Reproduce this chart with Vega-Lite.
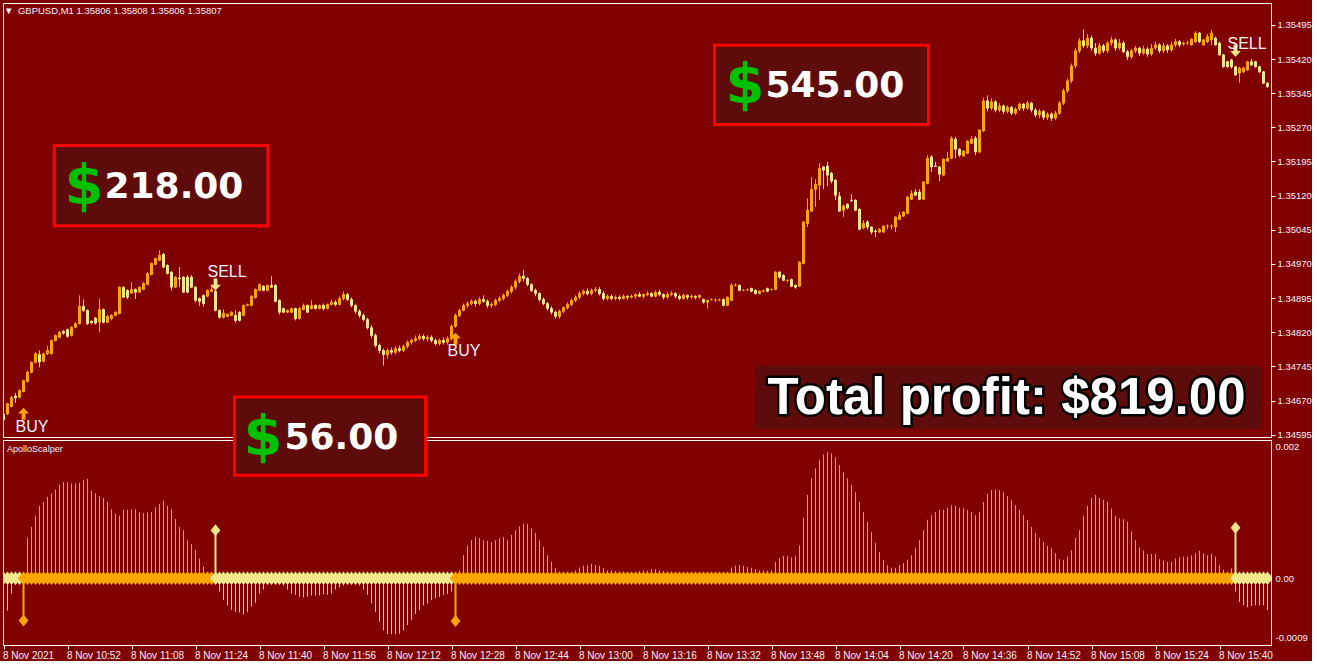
{
"$schema": "https://vega.github.io/schema/vega-lite/v6.json",
"background": "#800000",
"padding": {"left": 2, "top": 2, "right": 0, "bottom": 0},
"spacing": 3,
"bounds": "flush",
"config": {"view": {"stroke": "#ffffff", "strokeWidth": 1}, "scale": {"continuousPadding": 0}, "axis": {"labelOverlap": false, "labelFlush": false, "labelBound": false}},
"datasets": {
"k": [
{"m":0,"o":1.34640,"h":1.34644,"l":1.34615,"c":1.34628,"v":-0.00065,"s":"d"},
{"m":1,"o":1.34641,"h":1.34665,"l":1.34638,"c":1.34663,"v":-0.00049,"s":"d"},
{"m":2,"o":1.34657,"h":1.34680,"l":1.34655,"c":1.34677,"v":-0.00023,"s":"d"},
{"m":3,"o":1.34680,"h":1.34687,"l":1.34665,"c":1.34676,"v":-0.0001,"s":"d"},
{"m":4,"o":1.34677,"h":1.34695,"l":1.34675,"c":1.34692,"v":-0.00003,"s":"d"},
{"m":5,"o":1.34690,"h":1.34716,"l":1.34688,"c":1.34714,"v":0,"s":"u"},
{"m":6,"o":1.34712,"h":1.34736,"l":1.34710,"c":1.34732,"v":0.00062,"s":"u"},
{"m":7,"o":1.34732,"h":1.34756,"l":1.34730,"c":1.34754,"v":0.00078,"s":"u"},
{"m":8,"o":1.34754,"h":1.34776,"l":1.34752,"c":1.34773,"v":0.00095,"s":"u"},
{"m":9,"o":1.34771,"h":1.34780,"l":1.34743,"c":1.34755,"v":0.0011,"s":"u"},
{"m":10,"o":1.34756,"h":1.34775,"l":1.34754,"c":1.34773,"v":0.00116,"s":"u"},
{"m":11,"o":1.34773,"h":1.34790,"l":1.34770,"c":1.34780,"v":0.00124,"s":"u"},
{"m":12,"o":1.34773,"h":1.34804,"l":1.34771,"c":1.34802,"v":0.00129,"s":"u"},
{"m":13,"o":1.34802,"h":1.34815,"l":1.34800,"c":1.34813,"v":0.00135,"s":"u"},
{"m":14,"o":1.34809,"h":1.34823,"l":1.34807,"c":1.34820,"v":0.00142,"s":"u"},
{"m":15,"o":1.34822,"h":1.34825,"l":1.34815,"c":1.34818,"v":0.00146,"s":"u"},
{"m":16,"o":1.34826,"h":1.34828,"l":1.34808,"c":1.34811,"v":0.00146,"s":"u"},
{"m":17,"o":1.34813,"h":1.34833,"l":1.34811,"c":1.34831,"v":0.00144,"s":"u"},
{"m":18,"o":1.34831,"h":1.34842,"l":1.34829,"c":1.34839,"v":0.00144,"s":"u"},
{"m":19,"o":1.34839,"h":1.34901,"l":1.34837,"c":1.34877,"v":0.00145,"s":"u"},
{"m":20,"o":1.34877,"h":1.34892,"l":1.34865,"c":1.34868,"v":0.00149,"s":"u"},
{"m":21,"o":1.34868,"h":1.34870,"l":1.34836,"c":1.34839,"v":0.00151,"s":"u"},
{"m":22,"o":1.34844,"h":1.34846,"l":1.34838,"c":1.34841,"v":0.00133,"s":"u"},
{"m":23,"o":1.34851,"h":1.34853,"l":1.34837,"c":1.34840,"v":0.00129,"s":"u"},
{"m":24,"o":1.34842,"h":1.34894,"l":1.34820,"c":1.34870,"v":0.00125,"s":"u"},
{"m":25,"o":1.34870,"h":1.34872,"l":1.34840,"c":1.34842,"v":0.00122,"s":"u"},
{"m":26,"o":1.34842,"h":1.34858,"l":1.34840,"c":1.34855,"v":0.00116,"s":"u"},
{"m":27,"o":1.34850,"h":1.34860,"l":1.34846,"c":1.34857,"v":0.00105,"s":"u"},
{"m":28,"o":1.34857,"h":1.34866,"l":1.34855,"c":1.34864,"v":0.00098,"s":"u"},
{"m":29,"o":1.34861,"h":1.34921,"l":1.34859,"c":1.34919,"v":0.00095,"s":"u"},
{"m":30,"o":1.34919,"h":1.34921,"l":1.34895,"c":1.34897,"v":0.00104,"s":"u"},
{"m":31,"o":1.34912,"h":1.34914,"l":1.34893,"c":1.34897,"v":0.00104,"s":"u"},
{"m":32,"o":1.34906,"h":1.34930,"l":1.34904,"c":1.34914,"v":0.00105,"s":"u"},
{"m":33,"o":1.34914,"h":1.34916,"l":1.34893,"c":1.34908,"v":0.00105,"s":"u"},
{"m":34,"o":1.34908,"h":1.34921,"l":1.34906,"c":1.34919,"v":0.00101,"s":"u"},
{"m":35,"o":1.34914,"h":1.34930,"l":1.34912,"c":1.34927,"v":0.00099,"s":"u"},
{"m":36,"o":1.34925,"h":1.34952,"l":1.34923,"c":1.34949,"v":0.001,"s":"u"},
{"m":37,"o":1.34947,"h":1.34973,"l":1.34945,"c":1.34971,"v":0.00101,"s":"u"},
{"m":38,"o":1.34969,"h":1.34984,"l":1.34967,"c":1.34982,"v":0.00108,"s":"u"},
{"m":39,"o":1.34978,"h":1.35000,"l":1.34976,"c":1.34989,"v":0.00113,"s":"u"},
{"m":40,"o":1.34991,"h":1.34994,"l":1.34961,"c":1.34963,"v":0.00118,"s":"u"},
{"m":41,"o":1.34967,"h":1.34969,"l":1.34947,"c":1.34949,"v":0.0011,"s":"u"},
{"m":42,"o":1.34952,"h":1.34954,"l":1.34912,"c":1.34919,"v":0.00105,"s":"u"},
{"m":43,"o":1.34919,"h":1.34943,"l":1.34917,"c":1.34941,"v":0.0009,"s":"u"},
{"m":44,"o":1.34939,"h":1.34963,"l":1.34919,"c":1.34937,"v":0.00078,"s":"u"},
{"m":45,"o":1.34941,"h":1.34943,"l":1.34906,"c":1.34908,"v":0.00073,"s":"u"},
{"m":46,"o":1.34941,"h":1.34945,"l":1.34906,"c":1.34908,"v":0.00058,"s":"u"},
{"m":47,"o":1.34941,"h":1.34945,"l":1.34917,"c":1.34919,"v":0.00052,"s":"u"},
{"m":48,"o":1.34919,"h":1.34921,"l":1.34886,"c":1.34890,"v":0.00043,"s":"u"},
{"m":49,"o":1.34894,"h":1.34896,"l":1.34878,"c":1.34888,"v":0.0003,"s":"u"},
{"m":50,"o":1.34901,"h":1.34903,"l":1.34876,"c":1.34883,"v":0.00018,"s":"u"},
{"m":51,"o":1.34899,"h":1.34914,"l":1.34897,"c":1.34912,"v":0.00008,"s":"u"},
{"m":52,"o":1.34910,"h":1.34921,"l":1.34908,"c":1.34914,"v":0.00003,"s":"u"},
{"m":53,"o":1.34910,"h":1.34918,"l":1.34866,"c":1.34868,"v":-0.00008,"s":"d"},
{"m":54,"o":1.34868,"h":1.34870,"l":1.34850,"c":1.34853,"v":-0.0002,"s":"d"},
{"m":55,"o":1.34853,"h":1.34870,"l":1.34850,"c":1.34862,"v":-0.00033,"s":"d"},
{"m":56,"o":1.34855,"h":1.34862,"l":1.34853,"c":1.34859,"v":-0.00041,"s":"d"},
{"m":57,"o":1.34857,"h":1.34866,"l":1.34855,"c":1.34864,"v":-0.00048,"s":"d"},
{"m":58,"o":1.34857,"h":1.34868,"l":1.34841,"c":1.34846,"v":-0.00051,"s":"d"},
{"m":59,"o":1.34864,"h":1.34866,"l":1.34844,"c":1.34846,"v":-0.00052,"s":"d"},
{"m":60,"o":1.34857,"h":1.34881,"l":1.34855,"c":1.34879,"v":-0.00055,"s":"d"},
{"m":61,"o":1.34879,"h":1.34883,"l":1.34877,"c":1.34881,"v":-0.00051,"s":"d"},
{"m":62,"o":1.34879,"h":1.34901,"l":1.34877,"c":1.34899,"v":-0.00043,"s":"d"},
{"m":63,"o":1.34896,"h":1.34916,"l":1.34894,"c":1.34914,"v":-0.00037,"s":"d"},
{"m":64,"o":1.34912,"h":1.34927,"l":1.34910,"c":1.34925,"v":-0.00023,"s":"d"},
{"m":65,"o":1.34921,"h":1.34923,"l":1.34910,"c":1.34912,"v":-0.00017,"s":"d"},
{"m":66,"o":1.34912,"h":1.34925,"l":1.34910,"c":1.34923,"v":-0.00009,"s":"d"},
{"m":67,"o":1.34923,"h":1.34943,"l":1.34917,"c":1.34919,"v":-0.00006,"s":"d"},
{"m":68,"o":1.34923,"h":1.34925,"l":1.34886,"c":1.34888,"v":-0.00007,"s":"d"},
{"m":69,"o":1.34890,"h":1.34892,"l":1.34859,"c":1.34864,"v":-0.00008,"s":"d"},
{"m":70,"o":1.34872,"h":1.34874,"l":1.34862,"c":1.34864,"v":-0.00011,"s":"d"},
{"m":71,"o":1.34864,"h":1.34870,"l":1.34862,"c":1.34868,"v":-0.00017,"s":"d"},
{"m":72,"o":1.34864,"h":1.34874,"l":1.34862,"c":1.34872,"v":-0.00023,"s":"d"},
{"m":73,"o":1.34872,"h":1.34874,"l":1.34846,"c":1.34850,"v":-0.00025,"s":"d"},
{"m":74,"o":1.34850,"h":1.34876,"l":1.34848,"c":1.34872,"v":-0.00028,"s":"d"},
{"m":75,"o":1.34870,"h":1.34883,"l":1.34868,"c":1.34879,"v":-0.00029,"s":"d"},
{"m":76,"o":1.34879,"h":1.34881,"l":1.34862,"c":1.34864,"v":-0.00028,"s":"d"},
{"m":77,"o":1.34872,"h":1.34890,"l":1.34870,"c":1.34879,"v":-0.00026,"s":"d"},
{"m":78,"o":1.34879,"h":1.34881,"l":1.34870,"c":1.34872,"v":-0.00026,"s":"d"},
{"m":79,"o":1.34872,"h":1.34881,"l":1.34870,"c":1.34879,"v":-0.00026,"s":"d"},
{"m":80,"o":1.34879,"h":1.34883,"l":1.34868,"c":1.34872,"v":-0.00024,"s":"d"},
{"m":81,"o":1.34872,"h":1.34883,"l":1.34870,"c":1.34881,"v":-0.00025,"s":"d"},
{"m":82,"o":1.34881,"h":1.34892,"l":1.34879,"c":1.34886,"v":-0.00023,"s":"d"},
{"m":83,"o":1.34886,"h":1.34890,"l":1.34877,"c":1.34881,"v":-0.00017,"s":"d"},
{"m":84,"o":1.34881,"h":1.34899,"l":1.34879,"c":1.34894,"v":-0.00014,"s":"d"},
{"m":85,"o":1.34894,"h":1.34910,"l":1.34890,"c":1.34903,"v":-0.00011,"s":"d"},
{"m":86,"o":1.34903,"h":1.34906,"l":1.34888,"c":1.34892,"v":-0.00009,"s":"d"},
{"m":87,"o":1.34892,"h":1.34896,"l":1.34875,"c":1.34879,"v":-0.00008,"s":"d"},
{"m":88,"o":1.34879,"h":1.34881,"l":1.34861,"c":1.34866,"v":-0.00009,"s":"d"},
{"m":89,"o":1.34866,"h":1.34870,"l":1.34852,"c":1.34857,"v":-0.00011,"s":"d"},
{"m":90,"o":1.34857,"h":1.34861,"l":1.34844,"c":1.34848,"v":-0.00017,"s":"d"},
{"m":91,"o":1.34848,"h":1.34852,"l":1.34826,"c":1.34830,"v":-0.00025,"s":"d"},
{"m":92,"o":1.34830,"h":1.34835,"l":1.34808,"c":1.34813,"v":-0.00038,"s":"d"},
{"m":93,"o":1.34813,"h":1.34817,"l":1.34787,"c":1.34791,"v":-0.00051,"s":"d"},
{"m":94,"o":1.34791,"h":1.34795,"l":1.34774,"c":1.34780,"v":-0.00066,"s":"d"},
{"m":95,"o":1.34780,"h":1.34784,"l":1.34747,"c":1.34771,"v":-0.00079,"s":"d"},
{"m":96,"o":1.34771,"h":1.34784,"l":1.34762,"c":1.34780,"v":-0.00085,"s":"d"},
{"m":97,"o":1.34780,"h":1.34786,"l":1.34771,"c":1.34776,"v":-0.00085,"s":"d"},
{"m":98,"o":1.34776,"h":1.34789,"l":1.34771,"c":1.34784,"v":-0.00085,"s":"d"},
{"m":99,"o":1.34784,"h":1.34791,"l":1.34776,"c":1.34780,"v":-0.00084,"s":"d"},
{"m":100,"o":1.34780,"h":1.34793,"l":1.34776,"c":1.34789,"v":-0.00079,"s":"d"},
{"m":101,"o":1.34789,"h":1.34802,"l":1.34784,"c":1.34798,"v":-0.00071,"s":"d"},
{"m":102,"o":1.34798,"h":1.34806,"l":1.34793,"c":1.34802,"v":-0.00063,"s":"d"},
{"m":103,"o":1.34802,"h":1.34813,"l":1.34798,"c":1.34806,"v":-0.00054,"s":"d"},
{"m":104,"o":1.34806,"h":1.34817,"l":1.34802,"c":1.34811,"v":-0.00048,"s":"d"},
{"m":105,"o":1.34811,"h":1.34815,"l":1.34802,"c":1.34806,"v":-0.00041,"s":"d"},
{"m":106,"o":1.34806,"h":1.34813,"l":1.34800,"c":1.34809,"v":-0.00038,"s":"d"},
{"m":107,"o":1.34809,"h":1.34813,"l":1.34798,"c":1.34802,"v":-0.00033,"s":"d"},
{"m":108,"o":1.34802,"h":1.34806,"l":1.34791,"c":1.34795,"v":-0.0003,"s":"d"},
{"m":109,"o":1.34795,"h":1.34806,"l":1.34791,"c":1.34802,"v":-0.00028,"s":"d"},
{"m":110,"o":1.34802,"h":1.34809,"l":1.34793,"c":1.34798,"v":-0.00025,"s":"d"},
{"m":111,"o":1.34798,"h":1.34811,"l":1.34793,"c":1.34806,"v":-0.00024,"s":"d"},
{"m":112,"o":1.34806,"h":1.34837,"l":1.34802,"c":1.34833,"v":-0.0002,"s":"d"},
{"m":113,"o":1.34833,"h":1.34861,"l":1.34830,"c":1.34857,"v":0,"s":"u"},
{"m":114,"o":1.34857,"h":1.34872,"l":1.34853,"c":1.34868,"v":0.00012,"s":"u"},
{"m":115,"o":1.34868,"h":1.34883,"l":1.34866,"c":1.34879,"v":0.00035,"s":"u"},
{"m":116,"o":1.34879,"h":1.34888,"l":1.34874,"c":1.34883,"v":0.0005,"s":"u"},
{"m":117,"o":1.34883,"h":1.34892,"l":1.34879,"c":1.34888,"v":0.00058,"s":"u"},
{"m":118,"o":1.34888,"h":1.34892,"l":1.34877,"c":1.34883,"v":0.00063,"s":"u"},
{"m":119,"o":1.34883,"h":1.34897,"l":1.34879,"c":1.34892,"v":0.00061,"s":"u"},
{"m":120,"o":1.34892,"h":1.34901,"l":1.34885,"c":1.34888,"v":0.00058,"s":"u"},
{"m":121,"o":1.34888,"h":1.34892,"l":1.34874,"c":1.34879,"v":0.00057,"s":"u"},
{"m":122,"o":1.34879,"h":1.34886,"l":1.34874,"c":1.34881,"v":0.00055,"s":"u"},
{"m":123,"o":1.34881,"h":1.34894,"l":1.34877,"c":1.34890,"v":0.00058,"s":"u"},
{"m":124,"o":1.34890,"h":1.34899,"l":1.34886,"c":1.34894,"v":0.00061,"s":"u"},
{"m":125,"o":1.34894,"h":1.34905,"l":1.34890,"c":1.34901,"v":0.00063,"s":"u"},
{"m":126,"o":1.34901,"h":1.34914,"l":1.34897,"c":1.34910,"v":0.00058,"s":"u"},
{"m":127,"o":1.34910,"h":1.34923,"l":1.34905,"c":1.34919,"v":0.00066,"s":"u"},
{"m":128,"o":1.34919,"h":1.34936,"l":1.34914,"c":1.34932,"v":0.00073,"s":"u"},
{"m":129,"o":1.34932,"h":1.34949,"l":1.34927,"c":1.34943,"v":0.00079,"s":"u"},
{"m":130,"o":1.34943,"h":1.34956,"l":1.34932,"c":1.34938,"v":0.00083,"s":"u"},
{"m":131,"o":1.34938,"h":1.34941,"l":1.34921,"c":1.34925,"v":0.00083,"s":"u"},
{"m":132,"o":1.34925,"h":1.34927,"l":1.34908,"c":1.34912,"v":0.00076,"s":"u"},
{"m":133,"o":1.34912,"h":1.34916,"l":1.34899,"c":1.34905,"v":0.00069,"s":"u"},
{"m":134,"o":1.34905,"h":1.34908,"l":1.34888,"c":1.34892,"v":0.00058,"s":"u"},
{"m":135,"o":1.34892,"h":1.34896,"l":1.34879,"c":1.34883,"v":0.00048,"s":"u"},
{"m":136,"o":1.34883,"h":1.34886,"l":1.34868,"c":1.34872,"v":0.00035,"s":"u"},
{"m":137,"o":1.34872,"h":1.34877,"l":1.34859,"c":1.34864,"v":0.00025,"s":"u"},
{"m":138,"o":1.34864,"h":1.34868,"l":1.34850,"c":1.34855,"v":0.00016,"s":"u"},
{"m":139,"o":1.34855,"h":1.34870,"l":1.34850,"c":1.34866,"v":0.0001,"s":"u"},
{"m":140,"o":1.34866,"h":1.34877,"l":1.34861,"c":1.34874,"v":0.0001,"s":"u"},
{"m":141,"o":1.34874,"h":1.34886,"l":1.34870,"c":1.34881,"v":0.00007,"s":"u"},
{"m":142,"o":1.34881,"h":1.34894,"l":1.34877,"c":1.34890,"v":0.00009,"s":"u"},
{"m":143,"o":1.34890,"h":1.34901,"l":1.34886,"c":1.34897,"v":0.00012,"s":"u"},
{"m":144,"o":1.34897,"h":1.34910,"l":1.34892,"c":1.34905,"v":0.00016,"s":"u"},
{"m":145,"o":1.34905,"h":1.34914,"l":1.34901,"c":1.34910,"v":0.00019,"s":"u"},
{"m":146,"o":1.34910,"h":1.34916,"l":1.34901,"c":1.34905,"v":0.0002,"s":"u"},
{"m":147,"o":1.34905,"h":1.34916,"l":1.34901,"c":1.34912,"v":0.00022,"s":"u"},
{"m":148,"o":1.34912,"h":1.34919,"l":1.34908,"c":1.34914,"v":0.0002,"s":"u"},
{"m":149,"o":1.34914,"h":1.34919,"l":1.34901,"c":1.34905,"v":0.00019,"s":"u"},
{"m":150,"o":1.34905,"h":1.34910,"l":1.34890,"c":1.34894,"v":0.00016,"s":"u"},
{"m":151,"o":1.34894,"h":1.34903,"l":1.34890,"c":1.34899,"v":0.00012,"s":"u"},
{"m":152,"o":1.34899,"h":1.34903,"l":1.34890,"c":1.34894,"v":0.00012,"s":"u"},
{"m":153,"o":1.34894,"h":1.34901,"l":1.34890,"c":1.34897,"v":0.00011,"s":"u"},
{"m":154,"o":1.34897,"h":1.34901,"l":1.34890,"c":1.34894,"v":0.0001,"s":"u"},
{"m":155,"o":1.34894,"h":1.34903,"l":1.34892,"c":1.34899,"v":0.0001,"s":"u"},
{"m":156,"o":1.34899,"h":1.34901,"l":1.34892,"c":1.34897,"v":0.00008,"s":"u"},
{"m":157,"o":1.34897,"h":1.34903,"l":1.34894,"c":1.34899,"v":0.00008,"s":"u"},
{"m":158,"o":1.34899,"h":1.34905,"l":1.34894,"c":1.34903,"v":0.00009,"s":"u"},
{"m":159,"o":1.34903,"h":1.34908,"l":1.34897,"c":1.34899,"v":0.00011,"s":"u"},
{"m":160,"o":1.34899,"h":1.34905,"l":1.34894,"c":1.34903,"v":0.00012,"s":"u"},
{"m":161,"o":1.34903,"h":1.34910,"l":1.34899,"c":1.34905,"v":0.00012,"s":"u"},
{"m":162,"o":1.34905,"h":1.34908,"l":1.34897,"c":1.34899,"v":0.00014,"s":"u"},
{"m":163,"o":1.34899,"h":1.34912,"l":1.34897,"c":1.34908,"v":0.00014,"s":"u"},
{"m":164,"o":1.34908,"h":1.34912,"l":1.34899,"c":1.34903,"v":0.00012,"s":"u"},
{"m":165,"o":1.34903,"h":1.34905,"l":1.34892,"c":1.34897,"v":0.00011,"s":"u"},
{"m":166,"o":1.34897,"h":1.34908,"l":1.34894,"c":1.34903,"v":0.0001,"s":"u"},
{"m":167,"o":1.34903,"h":1.34910,"l":1.34899,"c":1.34905,"v":0.0001,"s":"u"},
{"m":168,"o":1.34905,"h":1.34908,"l":1.34894,"c":1.34899,"v":0.00008,"s":"u"},
{"m":169,"o":1.34899,"h":1.34903,"l":1.34890,"c":1.34894,"v":0.00008,"s":"u"},
{"m":170,"o":1.34894,"h":1.34905,"l":1.34892,"c":1.34901,"v":0.00007,"s":"u"},
{"m":171,"o":1.34901,"h":1.34903,"l":1.34892,"c":1.34897,"v":0.00007,"s":"u"},
{"m":172,"o":1.34897,"h":1.34903,"l":1.34894,"c":1.34899,"v":0.00005,"s":"u"},
{"m":173,"o":1.34899,"h":1.34901,"l":1.34892,"c":1.34897,"v":0.00005,"s":"u"},
{"m":174,"o":1.34897,"h":1.34903,"l":1.34894,"c":1.34901,"v":0.00005,"s":"u"},
{"m":175,"o":1.34892,"h":1.34894,"l":1.34883,"c":1.34886,"v":0.00003,"s":"u"},
{"m":176,"o":1.34886,"h":1.34892,"l":1.34872,"c":1.34890,"v":0.00003,"s":"u"},
{"m":177,"o":1.34892,"h":1.34894,"l":1.34890,"c":1.34892,"v":0.00003,"s":"u"},
{"m":178,"o":1.34891,"h":1.34894,"l":1.34886,"c":1.34891,"v":0.00003,"s":"u"},
{"m":179,"o":1.34891,"h":1.34894,"l":1.34888,"c":1.34891,"v":0.00005,"s":"u"},
{"m":180,"o":1.34892,"h":1.34894,"l":1.34877,"c":1.34879,"v":0.00005,"s":"u"},
{"m":181,"o":1.34879,"h":1.34899,"l":1.34877,"c":1.34897,"v":0.00008,"s":"u"},
{"m":182,"o":1.34890,"h":1.34927,"l":1.34888,"c":1.34923,"v":0.00016,"s":"u"},
{"m":183,"o":1.34923,"h":1.34927,"l":1.34921,"c":1.34923,"v":0.00019,"s":"u"},
{"m":184,"o":1.34923,"h":1.34925,"l":1.34910,"c":1.34912,"v":0.0002,"s":"u"},
{"m":185,"o":1.34912,"h":1.34914,"l":1.34910,"c":1.34912,"v":0.00019,"s":"u"},
{"m":186,"o":1.34914,"h":1.34916,"l":1.34910,"c":1.34914,"v":0.00017,"s":"u"},
{"m":187,"o":1.34916,"h":1.34918,"l":1.34908,"c":1.34910,"v":0.00016,"s":"u"},
{"m":188,"o":1.34912,"h":1.34914,"l":1.34903,"c":1.34905,"v":0.00014,"s":"u"},
{"m":189,"o":1.34905,"h":1.34912,"l":1.34903,"c":1.34910,"v":0.00012,"s":"u"},
{"m":190,"o":1.34910,"h":1.34914,"l":1.34908,"c":1.34911,"v":0.00012,"s":"u"},
{"m":191,"o":1.34916,"h":1.34918,"l":1.34908,"c":1.34910,"v":0.00012,"s":"u"},
{"m":192,"o":1.34914,"h":1.34916,"l":1.34912,"c":1.34914,"v":0.00012,"s":"u"},
{"m":193,"o":1.34914,"h":1.34954,"l":1.34912,"c":1.34952,"v":0.00025,"s":"u"},
{"m":194,"o":1.34952,"h":1.34954,"l":1.34938,"c":1.34941,"v":0.00031,"s":"u"},
{"m":195,"o":1.34945,"h":1.34947,"l":1.34932,"c":1.34934,"v":0.00034,"s":"u"},
{"m":196,"o":1.34934,"h":1.34936,"l":1.34930,"c":1.34934,"v":0.00034,"s":"u"},
{"m":197,"o":1.34936,"h":1.34938,"l":1.34919,"c":1.34921,"v":0.00032,"s":"u"},
{"m":198,"o":1.34923,"h":1.34925,"l":1.34916,"c":1.34919,"v":0.00034,"s":"u"},
{"m":199,"o":1.34921,"h":1.34976,"l":1.34919,"c":1.34974,"v":0.0005,"s":"u"},
{"m":200,"o":1.34971,"h":1.35064,"l":1.34969,"c":1.35062,"v":0.00092,"s":"u"},
{"m":201,"o":1.35059,"h":1.35114,"l":1.35051,"c":1.35088,"v":0.00127,"s":"u"},
{"m":202,"o":1.35086,"h":1.35161,"l":1.35084,"c":1.35134,"v":0.00152,"s":"u"},
{"m":203,"o":1.35134,"h":1.35156,"l":1.35095,"c":1.35145,"v":0.00167,"s":"u"},
{"m":204,"o":1.35143,"h":1.35191,"l":1.35110,"c":1.35180,"v":0.0018,"s":"u"},
{"m":205,"o":1.35183,"h":1.35185,"l":1.35134,"c":1.35176,"v":0.00188,"s":"u"},
{"m":206,"o":1.35185,"h":1.35194,"l":1.35141,"c":1.35165,"v":0.00192,"s":"u"},
{"m":207,"o":1.35169,"h":1.35172,"l":1.35147,"c":1.35152,"v":0.0019,"s":"u"},
{"m":208,"o":1.35154,"h":1.35156,"l":1.35110,"c":1.35121,"v":0.00184,"s":"u"},
{"m":209,"o":1.35119,"h":1.35128,"l":1.35084,"c":1.35086,"v":0.00172,"s":"u"},
{"m":210,"o":1.35088,"h":1.35101,"l":1.35073,"c":1.35097,"v":0.00161,"s":"u"},
{"m":211,"o":1.35101,"h":1.35103,"l":1.35090,"c":1.35093,"v":0.00152,"s":"u"},
{"m":212,"o":1.35110,"h":1.35123,"l":1.35106,"c":1.35109,"v":0.00142,"s":"u"},
{"m":213,"o":1.35110,"h":1.35112,"l":1.35086,"c":1.35088,"v":0.00131,"s":"u"},
{"m":214,"o":1.35090,"h":1.35092,"l":1.35044,"c":1.35046,"v":0.00116,"s":"u"},
{"m":215,"o":1.35049,"h":1.35066,"l":1.35046,"c":1.35059,"v":0.00101,"s":"u"},
{"m":216,"o":1.35062,"h":1.35066,"l":1.35046,"c":1.35051,"v":0.00086,"s":"u"},
{"m":217,"o":1.35051,"h":1.35053,"l":1.35035,"c":1.35040,"v":0.0007,"s":"u"},
{"m":218,"o":1.35042,"h":1.35046,"l":1.35029,"c":1.35041,"v":0.00054,"s":"u"},
{"m":219,"o":1.35040,"h":1.35049,"l":1.35038,"c":1.35046,"v":0.0004,"s":"u"},
{"m":220,"o":1.35040,"h":1.35055,"l":1.35038,"c":1.35053,"v":0.00028,"s":"u"},
{"m":221,"o":1.35053,"h":1.35057,"l":1.35046,"c":1.35053,"v":0.0002,"s":"u"},
{"m":222,"o":1.35053,"h":1.35057,"l":1.35046,"c":1.35053,"v":0.00016,"s":"u"},
{"m":223,"o":1.35051,"h":1.35075,"l":1.35040,"c":1.35073,"v":0.00016,"s":"u"},
{"m":224,"o":1.35068,"h":1.35084,"l":1.35066,"c":1.35077,"v":0.0002,"s":"u"},
{"m":225,"o":1.35075,"h":1.35086,"l":1.35073,"c":1.35084,"v":0.00023,"s":"u"},
{"m":226,"o":1.35081,"h":1.35119,"l":1.35079,"c":1.35117,"v":0.00028,"s":"u"},
{"m":227,"o":1.35112,"h":1.35132,"l":1.35110,"c":1.35125,"v":0.00035,"s":"u"},
{"m":228,"o":1.35128,"h":1.35134,"l":1.35119,"c":1.35121,"v":0.00046,"s":"u"},
{"m":229,"o":1.35128,"h":1.35134,"l":1.35110,"c":1.35112,"v":0.00058,"s":"u"},
{"m":230,"o":1.35112,"h":1.35152,"l":1.35110,"c":1.35150,"v":0.00073,"s":"u"},
{"m":231,"o":1.35147,"h":1.35209,"l":1.35145,"c":1.35202,"v":0.00089,"s":"u"},
{"m":232,"o":1.35205,"h":1.35209,"l":1.35172,"c":1.35183,"v":0.00096,"s":"u"},
{"m":233,"o":1.35185,"h":1.35194,"l":1.35183,"c":1.35184,"v":0.00101,"s":"u"},
{"m":234,"o":1.35183,"h":1.35185,"l":1.35152,"c":1.35167,"v":0.00104,"s":"u"},
{"m":235,"o":1.35165,"h":1.35202,"l":1.35163,"c":1.35200,"v":0.00104,"s":"u"},
{"m":236,"o":1.35196,"h":1.35216,"l":1.35194,"c":1.35202,"v":0.00107,"s":"u"},
{"m":237,"o":1.35202,"h":1.35250,"l":1.35200,"c":1.35246,"v":0.00111,"s":"u"},
{"m":238,"o":1.35244,"h":1.35249,"l":1.35202,"c":1.35222,"v":0.0011,"s":"u"},
{"m":239,"o":1.35222,"h":1.35224,"l":1.35205,"c":1.35209,"v":0.00107,"s":"u"},
{"m":240,"o":1.35207,"h":1.35220,"l":1.35205,"c":1.35218,"v":0.00107,"s":"u"},
{"m":241,"o":1.35213,"h":1.35242,"l":1.35211,"c":1.35240,"v":0.00104,"s":"u"},
{"m":242,"o":1.35235,"h":1.35251,"l":1.35233,"c":1.35244,"v":0.00101,"s":"u"},
{"m":243,"o":1.35246,"h":1.35251,"l":1.35209,"c":1.35216,"v":0.00096,"s":"u"},
{"m":244,"o":1.35216,"h":1.35266,"l":1.35213,"c":1.35264,"v":0.00101,"s":"u"},
{"m":245,"o":1.35262,"h":1.35335,"l":1.35260,"c":1.35328,"v":0.00116,"s":"u"},
{"m":246,"o":1.35328,"h":1.35340,"l":1.35305,"c":1.35312,"v":0.00128,"s":"u"},
{"m":247,"o":1.35312,"h":1.35334,"l":1.35308,"c":1.35326,"v":0.00134,"s":"u"},
{"m":248,"o":1.35326,"h":1.35330,"l":1.35303,"c":1.35308,"v":0.00135,"s":"u"},
{"m":249,"o":1.35308,"h":1.35323,"l":1.35303,"c":1.35317,"v":0.00134,"s":"u"},
{"m":250,"o":1.35317,"h":1.35320,"l":1.35299,"c":1.35305,"v":0.00131,"s":"u"},
{"m":251,"o":1.35305,"h":1.35318,"l":1.35301,"c":1.35314,"v":0.00125,"s":"u"},
{"m":252,"o":1.35314,"h":1.35317,"l":1.35297,"c":1.35301,"v":0.00119,"s":"u"},
{"m":253,"o":1.35301,"h":1.35314,"l":1.35297,"c":1.35310,"v":0.00111,"s":"u"},
{"m":254,"o":1.35310,"h":1.35325,"l":1.35306,"c":1.35321,"v":0.00104,"s":"u"},
{"m":255,"o":1.35321,"h":1.35323,"l":1.35306,"c":1.35312,"v":0.00096,"s":"u"},
{"m":256,"o":1.35312,"h":1.35328,"l":1.35308,"c":1.35323,"v":0.00089,"s":"u"},
{"m":257,"o":1.35323,"h":1.35326,"l":1.35303,"c":1.35308,"v":0.00078,"s":"u"},
{"m":258,"o":1.35308,"h":1.35312,"l":1.35292,"c":1.35297,"v":0.00069,"s":"u"},
{"m":259,"o":1.35297,"h":1.35310,"l":1.35290,"c":1.35305,"v":0.00061,"s":"u"},
{"m":260,"o":1.35305,"h":1.35308,"l":1.35286,"c":1.35292,"v":0.00055,"s":"u"},
{"m":261,"o":1.35292,"h":1.35303,"l":1.35286,"c":1.35299,"v":0.00049,"s":"u"},
{"m":262,"o":1.35299,"h":1.35303,"l":1.35284,"c":1.35290,"v":0.00046,"s":"u"},
{"m":263,"o":1.35290,"h":1.35306,"l":1.35286,"c":1.35301,"v":0.00038,"s":"u"},
{"m":264,"o":1.35301,"h":1.35328,"l":1.35297,"c":1.35323,"v":0.00029,"s":"u"},
{"m":265,"o":1.35323,"h":1.35355,"l":1.35319,"c":1.35350,"v":0.00028,"s":"u"},
{"m":266,"o":1.35350,"h":1.35377,"l":1.35345,"c":1.35372,"v":0.00033,"s":"u"},
{"m":267,"o":1.35372,"h":1.35410,"l":1.35367,"c":1.35405,"v":0.00043,"s":"u"},
{"m":268,"o":1.35405,"h":1.35444,"l":1.35400,"c":1.35438,"v":0.00061,"s":"u"},
{"m":269,"o":1.35438,"h":1.35466,"l":1.35433,"c":1.35460,"v":0.00073,"s":"u"},
{"m":270,"o":1.35460,"h":1.35485,"l":1.35444,"c":1.35449,"v":0.00095,"s":"u"},
{"m":271,"o":1.35449,"h":1.35475,"l":1.35444,"c":1.35466,"v":0.0011,"s":"u"},
{"m":272,"o":1.35466,"h":1.35471,"l":1.35438,"c":1.35444,"v":0.00122,"s":"u"},
{"m":273,"o":1.35444,"h":1.35455,"l":1.35427,"c":1.35433,"v":0.00127,"s":"u"},
{"m":274,"o":1.35433,"h":1.35455,"l":1.35429,"c":1.35449,"v":0.00122,"s":"u"},
{"m":275,"o":1.35449,"h":1.35453,"l":1.35433,"c":1.35438,"v":0.00119,"s":"u"},
{"m":276,"o":1.35438,"h":1.35460,"l":1.35433,"c":1.35455,"v":0.00116,"s":"u"},
{"m":277,"o":1.35455,"h":1.35469,"l":1.35449,"c":1.35462,"v":0.00106,"s":"u"},
{"m":278,"o":1.35462,"h":1.35466,"l":1.35438,"c":1.35444,"v":0.00095,"s":"u"},
{"m":279,"o":1.35444,"h":1.35464,"l":1.35440,"c":1.35455,"v":0.00091,"s":"u"},
{"m":280,"o":1.35455,"h":1.35460,"l":1.35433,"c":1.35436,"v":0.0009,"s":"u"},
{"m":281,"o":1.35436,"h":1.35440,"l":1.35418,"c":1.35425,"v":0.00086,"s":"u"},
{"m":282,"o":1.35425,"h":1.35442,"l":1.35420,"c":1.35438,"v":0.00071,"s":"u"},
{"m":283,"o":1.35438,"h":1.35449,"l":1.35433,"c":1.35444,"v":0.00058,"s":"u"},
{"m":284,"o":1.35444,"h":1.35447,"l":1.35427,"c":1.35433,"v":0.00047,"s":"u"},
{"m":285,"o":1.35433,"h":1.35449,"l":1.35429,"c":1.35442,"v":0.00042,"s":"u"},
{"m":286,"o":1.35442,"h":1.35446,"l":1.35425,"c":1.35431,"v":0.00037,"s":"u"},
{"m":287,"o":1.35431,"h":1.35453,"l":1.35427,"c":1.35444,"v":0.00037,"s":"u"},
{"m":288,"o":1.35444,"h":1.35458,"l":1.35440,"c":1.35451,"v":0.00037,"s":"u"},
{"m":289,"o":1.35451,"h":1.35455,"l":1.35433,"c":1.35438,"v":0.00029,"s":"u"},
{"m":290,"o":1.35438,"h":1.35455,"l":1.35433,"c":1.35449,"v":0.00027,"s":"u"},
{"m":291,"o":1.35449,"h":1.35453,"l":1.35433,"c":1.35440,"v":0.00025,"s":"u"},
{"m":292,"o":1.35440,"h":1.35458,"l":1.35436,"c":1.35451,"v":0.00025,"s":"u"},
{"m":293,"o":1.35451,"h":1.35464,"l":1.35446,"c":1.35458,"v":0.0003,"s":"u"},
{"m":294,"o":1.35458,"h":1.35462,"l":1.35446,"c":1.35451,"v":0.00032,"s":"u"},
{"m":295,"o":1.35453,"h":1.35458,"l":1.35449,"c":1.35455,"v":0.00033,"s":"u"},
{"m":296,"o":1.35455,"h":1.35460,"l":1.35451,"c":1.35455,"v":0.00033,"s":"u"},
{"m":297,"o":1.35451,"h":1.35466,"l":1.35449,"c":1.35464,"v":0.00035,"s":"u"},
{"m":298,"o":1.35458,"h":1.35481,"l":1.35455,"c":1.35477,"v":0.00038,"s":"u"},
{"m":299,"o":1.35477,"h":1.35479,"l":1.35455,"c":1.35458,"v":0.00042,"s":"u"},
{"m":300,"o":1.35451,"h":1.35464,"l":1.35449,"c":1.35462,"v":0.00038,"s":"u"},
{"m":301,"o":1.35458,"h":1.35475,"l":1.35455,"c":1.35469,"v":0.00035,"s":"u"},
{"m":302,"o":1.35462,"h":1.35484,"l":1.35451,"c":1.35477,"v":0.00037,"s":"u"},
{"m":303,"o":1.35466,"h":1.35469,"l":1.35449,"c":1.35451,"v":0.00033,"s":"u"},
{"m":304,"o":1.35455,"h":1.35458,"l":1.35427,"c":1.35429,"v":0.0002,"s":"u"},
{"m":305,"o":1.35429,"h":1.35431,"l":1.35401,"c":1.35403,"v":0.00013,"s":"u"},
{"m":306,"o":1.35414,"h":1.35416,"l":1.35401,"c":1.35403,"v":0.00005,"s":"u"},
{"m":307,"o":1.35418,"h":1.35420,"l":1.35399,"c":1.35403,"v":0.00015,"s":"u"},
{"m":308,"o":1.35403,"h":1.35405,"l":1.35383,"c":1.35385,"v":-0.0002,"s":"d"},
{"m":309,"o":1.35389,"h":1.35403,"l":1.35368,"c":1.35400,"v":-0.00036,"s":"d"},
{"m":310,"o":1.35392,"h":1.35403,"l":1.35389,"c":1.35400,"v":-0.00041,"s":"d"},
{"m":311,"o":1.35396,"h":1.35416,"l":1.35394,"c":1.35414,"v":-0.00044,"s":"d"},
{"m":312,"o":1.35414,"h":1.35420,"l":1.35405,"c":1.35407,"v":-0.00042,"s":"d"},
{"m":313,"o":1.35414,"h":1.35416,"l":1.35401,"c":1.35403,"v":-0.00041,"s":"d"},
{"m":314,"o":1.35403,"h":1.35405,"l":1.35389,"c":1.35392,"v":-0.00041,"s":"d"},
{"m":315,"o":1.35392,"h":1.35394,"l":1.35365,"c":1.35367,"v":-0.00041,"s":"d"},
{"m":316,"o":1.35367,"h":1.35369,"l":1.35357,"c":1.35359,"v":-0.00048,"s":"d"}
],
"sig": [
{"m":5,"v":-0.00064,"s":"u"},
{"m":53,"v":0.00073,"s":"d"},
{"m":113,"v":-0.00065,"s":"u"},
{"m":308,"v":0.00077,"s":"d"}
],
"mk": [
{"m":5,"ap":1.34641,"lp":1.34613,"t":"BUY","s":"u"},
{"m":53,"ap":1.34925,"lp":1.34952,"t":"SELL","s":"d"},
{"m":113,"ap":1.34806,"lp":1.34778,"t":"BUY","s":"u"},
{"m":308,"ap":1.35438,"lp":1.35453,"t":"SELL","s":"d"}
],
"hdr": [
{"m":0.1,"p":1.35526,"t":"▼"},
{"m":3.6,"p":1.35526,"t":"GBPUSD,M1  1.35806 1.35808 1.35806 1.35807"}
],
"box": [
{"x1":12.7,"x2":66.1,"y1":1.3523,"y2":1.35054,"dm":20.1,"tm":25.25,"tp":1.35139,"amt":"218.00"},
{"x1":177.75,"x2":231.25,"y1":1.3545,"y2":1.35276,"dm":185.4,"tm":190.5,"tp":1.35361,"amt":"545.00"}
],
"tot": [
{"x1":187.9,"x2":314.6,"y1":1.34747,"y2":1.34608,"tm":250.75,"tp":1.34673,"t":"Total profit: $819.00"}
],
"b56": [
{"x1":57.75,"x2":105.5,"y1":0.002754,"y2":0.001566,"dm":64.9,"tm":70.25,"tv":0.002137,"amt":"56.00"}
],
"ind": [
{"m":0.9,"v":0.00196,"t":"ApolloScalper"}
]
},
"vconcat": [
{
"width": 1268,
"height": 434,
"layer": [
{"data":{"name":"k"},"mark":{"type":"rule","strokeWidth":1,"clip":true},
 "encoding":{
  "x":{"field":"m","type":"quantitative","scale":{"domain":[-0.125,316.875],"nice":false,"zero":false,"padding":0},"axis":null},
  "y":{"field":"l","type":"quantitative","scale":{"domain":[1.3459,1.35543],"nice":false,"zero":false,"padding":0},
   "axis":{"orient":"right","title":null,"values":[1.34595,1.3467,1.34745,1.3482,1.34895,1.3497,1.35045,1.3512,1.35195,1.3527,1.35345,1.3542,1.35495],"tickCount":40,"format":".5f","grid":false,"domain":false,"ticks":true,"tickSize":4,"tickColor":"#ffffff","labelColor":"#f0f0ff","labelFont":"Liberation Sans","labelFontSize":9.5,"labelPadding":2,"labelOverlap":false,"labelFlush":false,"labelBound":false}},
  "y2":{"field":"h"},
  "color":{"condition":{"test":"datum.c >= datum.o","value":"#ffa500"},"value":"#f0e68c"}}},
{"data":{"name":"k"},"mark":{"type":"bar","size":2,"strokeWidth":1,"clip":true},
 "encoding":{
  "x":{"field":"m","type":"quantitative","scale":{"domain":[-0.125,316.875],"nice":false,"zero":false,"padding":0},"axis":null},
  "y":{"field":"o","type":"quantitative","scale":{"domain":[1.3459,1.35543],"nice":false,"zero":false,"padding":0},"title":null},
  "y2":{"field":"c"},
  "color":{"condition":{"test":"datum.c >= datum.o","value":"#ffa500"},"value":"#f0e68c"},
  "stroke":{"condition":{"test":"datum.c >= datum.o","value":"#ffa500"},"value":"#f0e68c"}}},
{"data":{"name":"mk"},"mark":{"type":"point","shape":"M-0.32,1L0.32,1L0.32,-0.05L0.9,-0.05L0,-1L-0.9,-0.05L-0.32,-0.05Z","filled":true,"size":144,"opacity":1},
 "encoding":{
  "x":{"field":"m","type":"quantitative","scale":{"domain":[-0.125,316.875],"nice":false,"zero":false,"padding":0},"axis":null},
  "y":{"field":"ap","type":"quantitative","scale":{"domain":[1.3459,1.35543],"nice":false,"zero":false,"padding":0},"title":null},
  "angle":{"condition":{"test":"datum.s == 'u'","value":0},"value":180},
  "color":{"condition":{"test":"datum.s == 'u'","value":"#ffa500"},"value":"#f0e68c"}}},
{"data":{"name":"mk"},"mark":{"type":"text","font":"Liberation Sans","fontSize":16,"align":"left","baseline":"middle","dx":-8,"color":"#f0f0ff"},
 "encoding":{
  "x":{"field":"m","type":"quantitative","scale":{"domain":[-0.125,316.875],"nice":false,"zero":false,"padding":0},"axis":null},
  "y":{"field":"lp","type":"quantitative","scale":{"domain":[1.3459,1.35543],"nice":false,"zero":false,"padding":0},"title":null},
  "text":{"field":"t"}}},
{"data":{"name":"hdr"},"mark":{"type":"text","font":"Liberation Sans","fontSize":9.5,"align":"left","baseline":"middle","color":"#f0f0ff"},
 "encoding":{
  "x":{"field":"m","type":"quantitative","scale":{"domain":[-0.125,316.875],"nice":false,"zero":false,"padding":0},"axis":null},
  "y":{"field":"p","type":"quantitative","scale":{"domain":[1.3459,1.35543],"nice":false,"zero":false,"padding":0},"title":null},
  "text":{"field":"t"}}},
{"data":{"name":"box"},"mark":{"type":"rect","fill":"#5e0b0b","stroke":"#ff0000","strokeWidth":3},
 "encoding":{
  "x":{"field":"x1","type":"quantitative","scale":{"domain":[-0.125,316.875],"nice":false,"zero":false,"padding":0},"axis":null},
  "x2":{"field":"x2"},
  "y":{"field":"y1","type":"quantitative","scale":{"domain":[1.3459,1.35543],"nice":false,"zero":false,"padding":0},"title":null},
  "y2":{"field":"y2"}}},
{"data":{"name":"box"},"mark":{"type":"text","font":"DejaVu Sans","fontSize":56,"fontWeight":"bold","align":"center","baseline":"middle","color":"#00c000"},
 "encoding":{
  "x":{"field":"dm","type":"quantitative","scale":{"domain":[-0.125,316.875],"nice":false,"zero":false,"padding":0},"axis":null},
  "y":{"field":"tp","type":"quantitative","scale":{"domain":[1.3459,1.35543],"nice":false,"zero":false,"padding":0},"title":null},
  "text":{"value":"$"}}},
{"data":{"name":"box"},"mark":{"type":"text","font":"DejaVu Sans","fontSize":36,"fontWeight":"bold","align":"left","baseline":"middle","color":"#ffffff"},
 "encoding":{
  "x":{"field":"tm","type":"quantitative","scale":{"domain":[-0.125,316.875],"nice":false,"zero":false,"padding":0},"axis":null},
  "y":{"field":"tp","type":"quantitative","scale":{"domain":[1.3459,1.35543],"nice":false,"zero":false,"padding":0},"title":null},
  "text":{"field":"amt"}}},
{"data":{"name":"tot"},"mark":{"type":"rect","fill":"#5e0b0b"},
 "encoding":{
  "x":{"field":"x1","type":"quantitative","scale":{"domain":[-0.125,316.875],"nice":false,"zero":false,"padding":0},"axis":null},
  "x2":{"field":"x2"},
  "y":{"field":"y1","type":"quantitative","scale":{"domain":[1.3459,1.35543],"nice":false,"zero":false,"padding":0},"title":null},
  "y2":{"field":"y2"}}},
{"data":{"name":"tot"},"mark":{"type":"text","font":"Liberation Sans","fontSize":51,"fontWeight":"bold","align":"center","baseline":"middle","color":"#000000","stroke":"#000000","strokeWidth":5,"strokeJoin":"round"},
 "encoding":{
  "x":{"field":"tm","type":"quantitative","scale":{"domain":[-0.125,316.875],"nice":false,"zero":false,"padding":0},"axis":null},
  "y":{"field":"tp","type":"quantitative","scale":{"domain":[1.3459,1.35543],"nice":false,"zero":false,"padding":0},"title":null},
  "text":{"field":"t"}}},
{"data":{"name":"tot"},"mark":{"type":"text","font":"Liberation Sans","fontSize":51,"fontWeight":"bold","align":"center","baseline":"middle","color":"#ffffff"},
 "encoding":{
  "x":{"field":"tm","type":"quantitative","scale":{"domain":[-0.125,316.875],"nice":false,"zero":false,"padding":0},"axis":null},
  "y":{"field":"tp","type":"quantitative","scale":{"domain":[1.3459,1.35543],"nice":false,"zero":false,"padding":0},"title":null},
  "text":{"field":"t"}}}
]
},
{
"width": 1268,
"height": 205,
"layer": [
{"data":{"name":"k"},"mark":{"type":"rule","strokeWidth":1,"clip":true},
 "encoding":{
  "x":{"field":"m","type":"quantitative","scale":{"domain":[-0.125,316.875],"nice":false,"zero":false,"padding":0},
   "axis":{"orient":"bottom","title":null,"values":[0,16,32,48,64,80,96,112,128,144,160,176,192,208,224,240,256,272,288,304],"tickCount":40,
    "labelExpr":"datum.value == 0 ? '8 Nov 2021' : '8 Nov ' + floor((636 + datum.value) / 60) + ':' + (((636 + datum.value) % 60) < 10 ? '0' : '') + ((636 + datum.value) % 60)",
    "labelAlign":"left","labelOffset":-1,"grid":false,"domain":false,"ticks":true,"tickSize":4,"tickColor":"#ffffff","labelColor":"#f0f0ff","labelFont":"Liberation Sans","labelFontSize":10,"labelPadding":1,"labelOverlap":false,"labelFlush":false,"labelBound":false}},
  "y":{"field":"v","type":"quantitative","scale":{"domain":[-0.001014,0.002102],"nice":false,"zero":false,"padding":0},
   "axis":{"orient":"right","title":null,"values":[0.002,0,-0.0009],"tickCount":10,
    "labelExpr":"datum.value > 0.001 ? '0.002' : (datum.value < 0 ? '-0.0009' : '0.00')",
    "grid":false,"domain":false,"ticks":false,"labelColor":"#f0f0ff","labelFont":"Liberation Sans","labelFontSize":9.5,"labelPadding":4,"labelOverlap":false,"labelFlush":false,"labelBound":false}},
  "y2":{"datum":0},
  "color":{"condition":{"test":"datum.s == 'u'","value":"#ffa500"},"value":"#f0e68c"}}},
{"data":{"name":"k"},"mark":{"type":"point","shape":"M-0.82,0L0,-1L0.82,0L0,1Z","filled":true,"size":180,"opacity":1,"clip":true},
 "encoding":{
  "x":{"field":"m","type":"quantitative","scale":{"domain":[-0.125,316.875],"nice":false,"zero":false,"padding":0},"title":null},
  "y":{"datum":0,"type":"quantitative","scale":{"domain":[-0.001014,0.002102],"nice":false,"zero":false,"padding":0},"title":null},
  "color":{"condition":{"test":"datum.s == 'u'","value":"#ffa500"},"value":"#f0e68c"}}},
{"data":{"name":"sig"},"mark":{"type":"rule","strokeWidth":2},
 "encoding":{
  "x":{"field":"m","type":"quantitative","scale":{"domain":[-0.125,316.875],"nice":false,"zero":false,"padding":0},"title":null},
  "y":{"field":"v","type":"quantitative","scale":{"domain":[-0.001014,0.002102],"nice":false,"zero":false,"padding":0},"title":null},
  "y2":{"datum":0},
  "color":{"condition":{"test":"datum.s == 'u'","value":"#ffa500"},"value":"#f0e68c"}}},
{"data":{"name":"sig"},"mark":{"type":"point","shape":"M-0.82,0L0,-1L0.82,0L0,1Z","filled":true,"size":144,"opacity":1},
 "encoding":{
  "x":{"field":"m","type":"quantitative","scale":{"domain":[-0.125,316.875],"nice":false,"zero":false,"padding":0},"title":null},
  "y":{"field":"v","type":"quantitative","scale":{"domain":[-0.001014,0.002102],"nice":false,"zero":false,"padding":0},"title":null},
  "color":{"condition":{"test":"datum.s == 'u'","value":"#ffa500"},"value":"#f0e68c"}}},
{"data":{"name":"ind"},"mark":{"type":"text","font":"Liberation Sans","fontSize":9,"align":"left","baseline":"middle","color":"#f0f0ff"},
 "encoding":{
  "x":{"field":"m","type":"quantitative","scale":{"domain":[-0.125,316.875],"nice":false,"zero":false,"padding":0},"title":null},
  "y":{"field":"v","type":"quantitative","scale":{"domain":[-0.001014,0.002102],"nice":false,"zero":false,"padding":0},"title":null},
  "text":{"field":"t"}}},
{"data":{"name":"b56"},"mark":{"type":"rect","fill":"#5e0b0b","stroke":"#ff0000","strokeWidth":3,"clip":false},
 "encoding":{
  "x":{"field":"x1","type":"quantitative","scale":{"domain":[-0.125,316.875],"nice":false,"zero":false,"padding":0},"title":null},
  "x2":{"field":"x2"},
  "y":{"field":"y1","type":"quantitative","scale":{"domain":[-0.001014,0.002102],"nice":false,"zero":false,"padding":0},"title":null},
  "y2":{"field":"y2"}}},
{"data":{"name":"b56"},"mark":{"type":"text","font":"DejaVu Sans","fontSize":56,"fontWeight":"bold","align":"center","baseline":"middle","color":"#00c000","clip":false},
 "encoding":{
  "x":{"field":"dm","type":"quantitative","scale":{"domain":[-0.125,316.875],"nice":false,"zero":false,"padding":0},"title":null},
  "y":{"field":"tv","type":"quantitative","scale":{"domain":[-0.001014,0.002102],"nice":false,"zero":false,"padding":0},"title":null},
  "text":{"value":"$"}}},
{"data":{"name":"b56"},"mark":{"type":"text","font":"DejaVu Sans","fontSize":36,"fontWeight":"bold","align":"left","baseline":"middle","color":"#ffffff","clip":false},
 "encoding":{
  "x":{"field":"tm","type":"quantitative","scale":{"domain":[-0.125,316.875],"nice":false,"zero":false,"padding":0},"title":null},
  "y":{"field":"tv","type":"quantitative","scale":{"domain":[-0.001014,0.002102],"nice":false,"zero":false,"padding":0},"title":null},
  "text":{"field":"amt"}}}
]
}
]
}
